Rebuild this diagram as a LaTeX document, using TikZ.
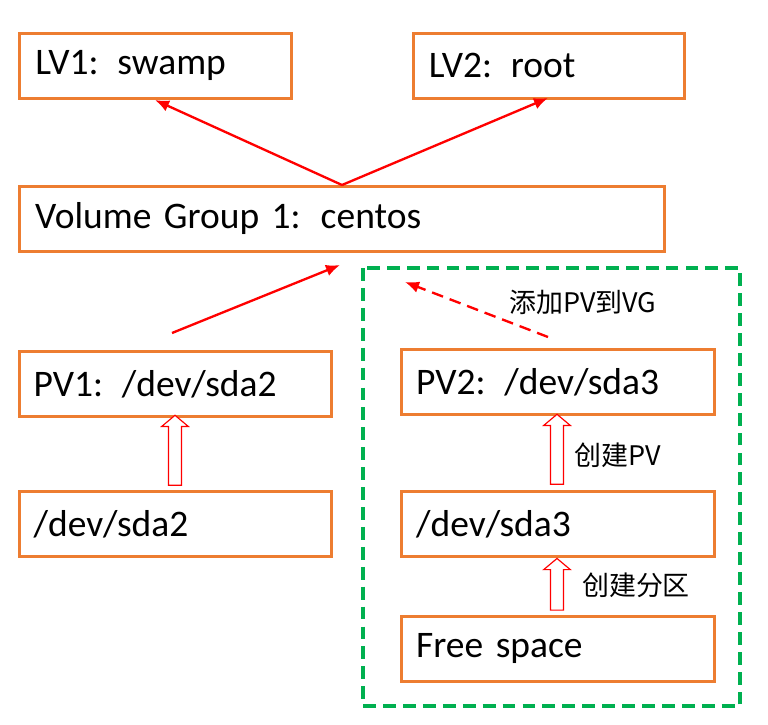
\documentclass[tikz,border=0pt]{standalone}
\usepackage{fontspec}
\setmainfont{Carlito}
\newfontfamily\cjk{Noto Sans CJK SC}
\usetikzlibrary{shapes.arrows}
\usetikzlibrary{arrows.meta}
\definecolor{boxorange}{RGB}{237,125,49}
\definecolor{dashgreen}{RGB}{0,176,80}

\begin{document}
\begin{tikzpicture}[x=0.03cm, y=-0.03cm]
\tikzset{box/.style = {draw=boxorange, line width=2.2pt, minimum height=1.95cm, anchor=north west, align=left, text width=#1, inner sep=0pt, font=\fontsize{32}{36}\selectfont}}
\tikzset{edge/.style = {-{Latex[length=12pt,width=10pt]}, draw=red, line width=2pt}}
\tikzset{hollow/.style = {single arrow, draw=red, fill=white, line width=1pt, minimum width=0.8cm, single arrow head extend=0.2cm, single arrow tip angle=100, shape border rotate=90, inner xsep=0.17cm, inner ysep=0pt}}
\tikzset{note/.style = {font=\cjk\fontsize{23}{26}\selectfont, anchor=west}}

\useasboundingbox (0,0) rectangle (768,724);

\draw[dashgreen, line width=2.8pt, dash pattern=on 11pt off 6pt] (363,268) rectangle (740,706);

\node[box=7.8cm, minimum width=8.16cm] (lv1) at (18,32) {\hspace{0.3cm}LV1: swamp};
\node[box=7.8cm, minimum width=8.13cm] (lv2) at (412,32) {\hspace{0.3cm}LV2: root};
\node[box=19cm, minimum width=19.35cm] (vg) at (18,185) {\hspace{0.3cm}Volume Group 1:\hspace{0.6cm}centos};
\node[box=9.1cm, minimum width=9.36cm] (pv1) at (18,350) {\hspace{0.3cm}PV1: /dev/sda2};
\node[box=9.1cm, minimum width=9.36cm] (sda2) at (18,490) {\hspace{0.3cm}/dev/sda2};
\node[box=9.1cm, minimum width=9.39cm] (pv2) at (400,348) {\hspace{0.3cm}PV2: /dev/sda3};
\node[box=9.1cm, minimum width=9.39cm] (sda3) at (400,490) {\hspace{0.3cm}/dev/sda3};
\node[box=9.1cm, minimum width=9.39cm] (free) at (400,615) {\hspace{0.3cm}Free space};

\coordinate (top) at (342,185);
\coordinate (lv1end) at (155,100);
\coordinate (lv2end) at (548,98);
\coordinate (pv1start) at (172,333);
\coordinate (vgin1) at (340,265);
\coordinate (pv2start) at (548,337);
\coordinate (vgin2) at (405,282);

\draw[edge] (top) -- (lv1end);
\draw[edge] (top) -- (lv2end);
\draw[edge] (pv1start) -- (vgin1);
\draw[edge, dash pattern=on 10pt off 6pt] (pv2start) -- (vgin2);

\node[hollow, minimum height=2.1cm] (up1) at (175,453) {};
\node[hollow, minimum height=2.1cm] (up2) at (557,452) {};
\node[hollow, minimum height=1.55cm] (up3) at (557,587) {};

\node[note] (addpv) at (505,302) {添加PV到VG};
\node[note] (mkpv) at (570,455) {创建PV};
\node[note] (mkpart) at (578,585) {创建分区};
\end{tikzpicture}
\end{document}
